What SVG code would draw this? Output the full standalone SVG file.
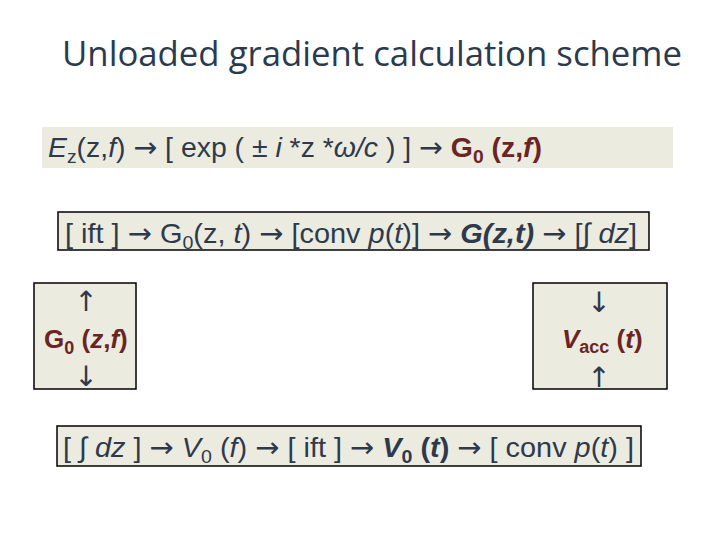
<svg xmlns="http://www.w3.org/2000/svg" width="720" height="540" viewBox="0 0 720 540">
<style>
.bx{fill:#ecebe0;stroke:#000;stroke-width:1.5}
.t{font-family:"Liberation Sans",Arial,sans-serif;font-size:28px;fill:#2e3a4c}
.a{font-family:"DejaVu Sans",sans-serif;font-weight:normal;font-style:normal;fill:#2e3a4c}
.v{font-size:28px}
.r{fill:#6b2424;font-weight:bold}
.b{font-weight:bold}
.i{font-style:italic}
.title{font-family:"Open Sans","Noto Sans",sans-serif;font-size:34px;fill:#2b3a4e}
</style>
<rect width="720" height="540" fill="#fff"/>
<text class="title" x="62" y="66" textLength="620" lengthAdjust="spacingAndGlyphs">Unloaded gradient calculation scheme</text>
<g id="node-phase">
<rect x="42" y="127" width="631" height="41" fill="#ecebe0"/>
<text class="t" x="48" y="157" textLength="494" lengthAdjust="spacingAndGlyphs"><tspan class="i">E</tspan><tspan font-size="19" dy="6">z</tspan><tspan dy="-6">(z,</tspan><tspan class="i">f</tspan>) <tspan class="a">→</tspan> [ exp ( ± <tspan class="i">i</tspan> *z *<tspan class="i">ω/c</tspan> ) ] <tspan class="a">→</tspan> <tspan class="r">G</tspan><tspan class="r" font-size="19" dy="6">0</tspan><tspan class="r" dy="-6"> (z,</tspan><tspan class="r i">f</tspan><tspan class="r">)</tspan></text>
</g>
<g id="node-ift">
<rect class="bx" x="58" y="212" width="591" height="38"/>
<text class="t" x="65" y="243" textLength="572" lengthAdjust="spacingAndGlyphs">[ ift ] <tspan class="a">→</tspan> G<tspan font-size="19" dy="6">0</tspan><tspan dy="-6">(z, </tspan><tspan class="i">t</tspan>) <tspan class="a">→</tspan> [conv <tspan class="i">p</tspan>(<tspan class="i">t</tspan>)] <tspan class="a">→</tspan> <tspan class="b i">G(z,t)</tspan> <tspan class="a">→</tspan> [∫ <tspan class="i">dz</tspan>]</text>
</g>
<g id="node-g0">
<rect class="bx" x="34" y="283" width="102" height="106"/>
<text class="t a v" x="86" y="311" text-anchor="middle">↑</text>
<text class="t" x="44" y="348" style="font-size:26px"><tspan class="r">G</tspan><tspan class="r" font-size="18" dy="6">0</tspan><tspan class="r" dy="-6"> (</tspan><tspan class="r i">z</tspan><tspan class="r">,</tspan><tspan class="r i">f</tspan><tspan class="r">)</tspan></text>
<text class="t a v" x="86" y="386" text-anchor="middle">↓</text>
</g>
<g id="node-vacc">
<rect class="bx" x="533" y="283" width="134" height="106"/>
<text class="t a v" x="599" y="312" text-anchor="middle">↓</text>
<text class="t" x="562" y="348" style="font-size:26px"><tspan class="r i">V</tspan><tspan class="r" font-size="18" dy="5">acc</tspan><tspan class="r" dy="-5"> (</tspan><tspan class="r i">t</tspan><tspan class="r">)</tspan></text>
<text class="t a v" x="599" y="387" text-anchor="middle">↑</text>
</g>
<g id="node-v0">
<rect class="bx" x="57" y="426" width="584" height="40"/>
<text class="t" x="63" y="457" textLength="571" lengthAdjust="spacingAndGlyphs">[ ∫ <tspan class="i">dz</tspan> ] <tspan class="a">→</tspan> <tspan class="i">V</tspan><tspan font-size="19" dy="6">0</tspan><tspan dy="-6"> (</tspan><tspan class="i">f</tspan>) <tspan class="a">→</tspan> [ ift ] <tspan class="a">→</tspan> <tspan class="b i">V</tspan><tspan class="b" font-size="19" dy="6">0</tspan><tspan class="b" dy="-6"> (</tspan><tspan class="b i">t</tspan><tspan class="b">)</tspan> <tspan class="a">→</tspan> [ conv <tspan class="i">p</tspan>(<tspan class="i">t</tspan>) ]</text>
</g>
<g id="connectors"></g>
</svg>
